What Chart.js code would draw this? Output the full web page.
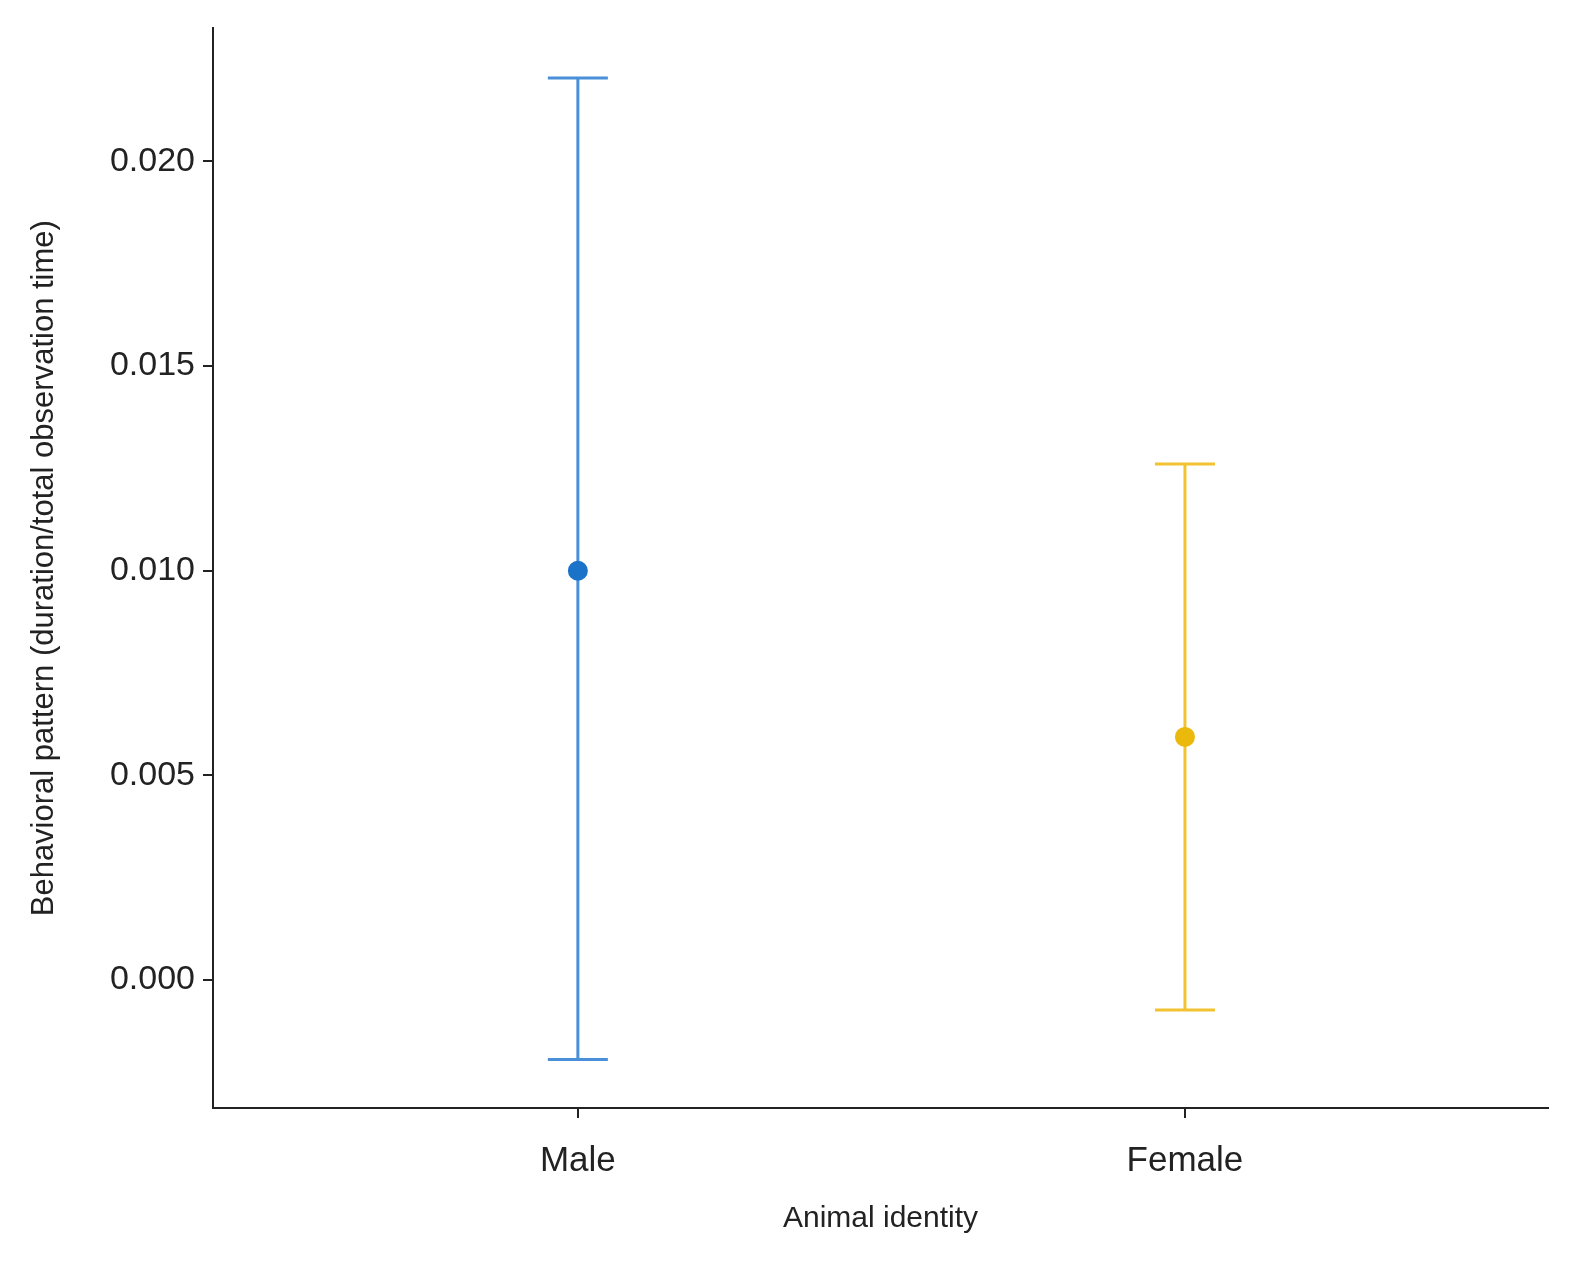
<!DOCTYPE html>
<html><head><meta charset="utf-8">
<script src="https://cdn.jsdelivr.net/npm/chart.js@4"></script>
<style>html,body{margin:0;background:#fff}#c{display:block}</style>
</head><body>
<canvas id="c" width="1592" height="1271"></canvas>
<script>
// data
const groups = ['Male', 'Female'];
const means = [0.0100, 0.00594];
const upper = [0.02204, 0.01261];
const lower = [-0.00194, -0.00073];
const lineColors = ['#4a90d9', '#f2c230'];
const pointColors = ['#1a73c8', '#ebb80c'];
const yTicks = [0, 0.005, 0.01, 0.015, 0.02];

const errorBars = {
    id: 'errorBars',
    afterDatasetsDraw(chart) {
        const { ctx, scales: { x, y } } = chart;
        ctx.save();
        ctx.lineWidth = 3;
        groups.forEach((g, i) => {
            const px = x.getPixelForValue(i + 1);
            const top = y.getPixelForValue(upper[i]);
            const bot = y.getPixelForValue(lower[i]);
            ctx.strokeStyle = lineColors[i];
            ctx.beginPath();
            ctx.moveTo(px, top); ctx.lineTo(px, bot);
            ctx.moveTo(px - 30, top); ctx.lineTo(px + 30, top);
            ctx.moveTo(px - 30, bot); ctx.lineTo(px + 30, bot);
            ctx.stroke();
            ctx.fillStyle = pointColors[i];
            ctx.beginPath();
            ctx.arc(px, y.getPixelForValue(means[i]), 10, 0, Math.PI * 2);
            ctx.fill();
        });
        ctx.restore();
    }
};

new Chart(document.getElementById('c'), {
    type: 'scatter',
    data: { datasets: [{ data: means.map((m, i) => ({ x: i + 1, y: m })), pointRadius: 0 }] },
    options: {
        responsive: false,
        animation: false,
        layout: { padding: { top: 20, right: 44, left: 22, bottom: 30 } },
        plugins: { legend: { display: false }, tooltip: { enabled: false } },
        scales: {
            x: {
                type: 'linear', min: 0.399, max: 2.598,
                afterBuildTicks: s => { s.ticks = [{ value: 1 }, { value: 2 }]; },
                afterFit: s => { s.height = 133; },
                ticks: { callback: v => groups[v - 1], color: '#222', font: { family: 'Liberation Sans', size: 35 }, padding: 22 },
                grid: { drawOnChartArea: false, tickLength: 10, color: '#222', lineWidth: 2 },
                border: { color: '#222', width: 2 },
                title: { display: true, text: 'Animal identity', color: '#222', font: { family: 'Liberation Sans', size: 30 }, padding: { top: 0 } }
            },
            y: {
                min: -0.003127, max: 0.02325,
                afterBuildTicks: s => { s.ticks = yTicks.map(v => ({ value: v })); },
                afterFit: s => { s.width = 191; },
                ticks: { callback: v => v.toFixed(3), color: '#222', font: { family: 'Liberation Sans', size: 34 }, padding: 8 },
                grid: { drawOnChartArea: false, tickLength: 10, color: '#222', lineWidth: 2 },
                border: { color: '#222', width: 2 },
                title: { display: true, text: 'Behavioral pattern (duration/total observation time)', color: '#222', font: { family: 'Liberation Sans', size: 31 }, padding: { bottom: 8 } }
            }
        }
    },
    plugins: [errorBars]
});
</script>
</body></html>
